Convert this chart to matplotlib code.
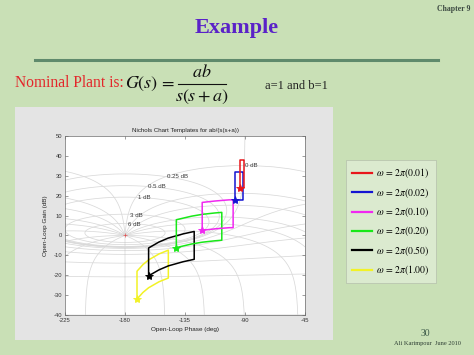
import numpy as np
import matplotlib
matplotlib.use('Agg')
import matplotlib.pyplot as plt
from matplotlib.patches import Rectangle
from matplotlib.lines import Line2D

plt.rcParams['axes.unicode_minus'] = False
plt.rcParams['mathtext.fontset'] = 'stix'

# ---------------- data ----------------
freq_labels = ['0.01', '0.02', '0.10', '0.20', '0.50', '1.00']
colors = ['#e8161b', '#1414d2', '#f028f0', '#18e818', '#000000', '#f2f226']

# template edge for b = 1 (a = 1, 1.5, 2, 3, 4): phase (deg), gain (dB)
phase_edge = [
    [-93.6, -92.4, -91.8, -91.2, -90.9],
    [-97.2, -94.8, -93.6, -92.4, -91.8],
    [-122.1, -112.7, -107.4, -101.8, -98.9],
    [-141.5, -130.0, -122.1, -112.7, -107.4],
    [-162.3, -154.5, -147.5, -136.3, -128.1],
    [-171.0, -166.6, -162.3, -154.5, -147.5],
]
gain_low = [
    [24.0, 24.0, 24.0, 24.0, 24.0],
    [18.0, 18.0, 18.0, 18.0, 18.0],
    [2.6, 3.3, 3.6, 3.9, 3.9],
    [-6.1, -4.3, -3.4, -2.7, -2.4],
    [-20.3, -17.3, -15.3, -13.2, -12.0],
    [-32.0, -28.7, -26.3, -23.3, -21.4],
]
# template edge for b = 5
gain_high = [
    [38.0, 38.0, 38.0, 38.0, 38.0],
    [32.0, 32.0, 32.0, 32.0, 32.0],
    [16.6, 17.3, 17.6, 17.9, 17.9],
    [7.9, 9.7, 10.6, 11.3, 11.6],
    [-6.3, -3.3, -1.3, 0.8, 2.0],
    [-18.0, -14.7, -12.3, -9.3, -7.4],
]

grid_gain_db = [6, 3, 1, 0.5, 0.25, 0, -1, -3, -6, -12, -20, -40]
grid_phase_deg = [1, 5, 10, 20, 30, 50, 90, 120, 150, 180]
grid_labels = ['0 dB', '0.25 dB', '0.5 dB', '1 dB', '3 dB', '6 dB']
grid_label_x = [-90.0, -148.5, -162.5, -170.5, -176.5, -178.0]
grid_label_y = [35.0, 29.4, 24.8, 18.9, 9.9, 5.7]

xticks = [-225, -180, -135, -90, -45]
yticks = [-40, -30, -20, -10, 0, 10, 20, 30, 40, 50]

# ---------------- figure ----------------
W, H = 474, 355
fig = plt.figure(figsize=(W / 100, H / 100), dpi=100)
fig.patch.set_facecolor('#c9e0b6')

def fx(px):
    return px / W

def fy(py):
    return 1 - py / H

# gray chart panel
fig.add_artist(Rectangle((fx(15), fy(340)), fx(333) - fx(15), fy(107) - fy(340),
                         transform=fig.transFigure, facecolor='#e4e4e4',
                         edgecolor='none', zorder=0))

# slide texts
fig.text(fx(454), fy(9), 'Chapter 9', family='Liberation Serif', weight='bold',
         fontsize=5.6, color='#3d4a42', ha='center', va='center')
fig.text(fx(237), fy(28), 'Example', family='Liberation Serif', weight='bold',
         fontsize=16, color='#5a22c8', ha='center', va='center')
fig.add_artist(Line2D([fx(35), fx(438)], [fy(60), fy(60)], transform=fig.transFigure,
                      color='#5f8a6c', lw=2.2))
fig.text(fx(15), fy(83), 'Nominal Plant is:', family='Liberation Serif',
         fontsize=11.2, color='#e3262a', ha='left', va='center')
fig.text(fx(175), fy(84), r'$G(s)\,=$', fontsize=13,
         color='#111111', ha='right', va='center')
fig.text(fx(202), fy(72), r'$ab$', fontsize=13,
         color='#111111', ha='center', va='center')
fig.add_artist(Line2D([fx(178), fx(226)], [fy(84), fy(84)], transform=fig.transFigure,
                      color='#111111', lw=0.8))
fig.text(fx(202), fy(97), r'$s(s+a)$', fontsize=13,
         color='#111111', ha='center', va='center')
fig.text(fx(265), fy(86), 'a=1 and b=1', family='Liberation Serif',
         fontsize=9, color='#222222', ha='left', va='center')
fig.text(fx(425), fy(333), '30', family='Liberation Serif', fontsize=7,
         color='#3c5a48', ha='center', va='center')
fig.text(fx(427), fy(344), 'Ali Karimpour  June 2010', family='Liberation Serif',
         fontsize=4.6, color='#2f3f35', ha='center', va='center')

# ---------------- axes ----------------
ax = fig.add_axes([fx(65), fy(315), fx(305) - fx(65), fy(136) - fy(315)])
ax.set_facecolor('white')
ax.set_xlim(-225, -45)
ax.set_ylim(-40, 50)

def wrap_phase(L):
    ph = np.degrees(np.angle(L))
    return np.where(ph > 0, ph - 360, ph)

def draw_broken(x, y, **kw):
    brk = np.where(np.abs(np.diff(x)) > 90)[0] + 1
    x = np.insert(x.astype(float), brk, np.nan)
    y = np.insert(y.astype(float), brk, np.nan)
    ax.plot(x, y, **kw)

gcol = '#d9d9d9'
with np.errstate(divide='ignore', invalid='ignore'):
    for gdb in grid_gain_db:
        m = 10 ** (gdb / 20)
        th = np.linspace(-np.pi, np.pi, 4000)
        T = m * np.exp(1j * th)
        L = T / (1 - T)
        g = 20 * np.log10(np.abs(L))
        draw_broken(wrap_phase(L), np.clip(g, -200, 200), color=gcol, lw=0.55, zorder=1)
    mm = np.logspace(-4, 4, 4000)
    for pd in grid_phase_deg:
        for sgn in ([1, -1] if pd != 180 else [1]):
            T = mm * np.exp(1j * np.radians(sgn * pd))
            L = T / (1 - T)
            g = 20 * np.log10(np.abs(L))
            draw_broken(wrap_phase(L), np.clip(g, -200, 200), color=gcol, lw=0.55, zorder=1)

for lab, x, y in zip(grid_labels, grid_label_x, grid_label_y):
    ax.text(x, y, lab, fontsize=4.4, color='#3a3a3a', family='Liberation Sans',
            ha='left', va='center', zorder=2)

ax.plot([-180], [0], marker='+', color='#e05050', ms=3, mew=0.5, zorder=2)

# templates
handles = [None] * len(freq_labels)
for i in reversed(range(len(freq_labels))):
    ph = np.array(phase_edge[i])
    lo = np.array(gain_low[i])
    hi = np.array(gain_high[i])
    xs = np.concatenate([ph, ph[::-1], ph[:1]])
    ys = np.concatenate([lo, hi[::-1], lo[:1]])
    ln, = ax.plot(xs, ys, color=colors[i], lw=1.1, zorder=3,
                  label=r'$\omega\,=\,2\pi(%s)$' % freq_labels[i])
    ax.plot(ph[0], lo[0], marker='*', color=colors[i], ms=6, mew=0.6, zorder=4)
    handles[i] = ln

ax.set_xticks(xticks)
ax.set_yticks(yticks)
ax.tick_params(direction='in', length=2, width=0.4, top=True, right=True,
               labelsize=4.2, labelcolor='#333333', color='#555555', pad=2)
for t in ax.get_xticklabels() + ax.get_yticklabels():
    t.set_family('Liberation Sans')
for s in ax.spines.values():
    s.set_color('#6a6a6a')
    s.set_linewidth(0.5)
ax.set_title('Nichols Chart Templates for ab/(s(s+a))', fontsize=4.4,
             family='Liberation Sans', color='#222222', pad=3)
ax.set_xlabel('Open-Loop Phase (deg)', fontsize=4.6, family='Liberation Sans',
              color='#222222', labelpad=3)
ax.set_ylabel('Open-Loop Gain (dB)', fontsize=4.6, family='Liberation Sans',
              color='#222222', labelpad=4)

leg = fig.legend(handles=[Line2D([0], [0], color=c, lw=1.6) for c in colors],
                 labels=[h.get_label() for h in handles],
                 loc='upper left', bbox_to_anchor=(fx(346), fy(160)),
                 bbox_transform=fig.transFigure, borderaxespad=0,
                 fontsize=7, handlelength=2.0, labelspacing=0.57,
                 borderpad=0.65, handletextpad=0.45, fancybox=False,
                 framealpha=0.35, facecolor='white', edgecolor='#8c8c8c')
leg.get_frame().set_linewidth(0.6)

fig.savefig('out.png', dpi=100, facecolor=fig.get_facecolor())
